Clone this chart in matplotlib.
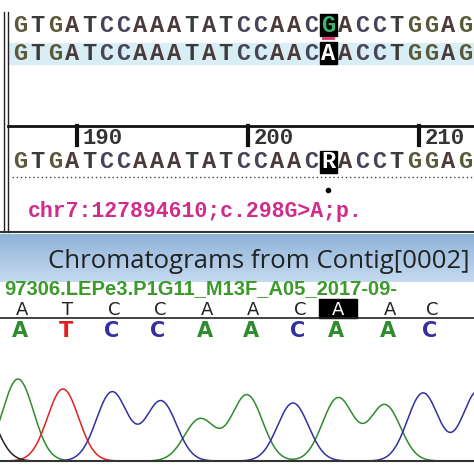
import numpy as np
import matplotlib
matplotlib.use("Agg")
import matplotlib.pyplot as plt
from matplotlib.patches import Rectangle

ref_seq = "GTGATCCAAATATCCAACGACCTGGAG"
read_seq = "GTGATCCAAATATCCAACAACCTGGAG"
cons_seq = "GTGATCCAAATATCCAACRACCTGGAG"
var_idx = 18
ruler_labels = ["190", "200", "210"]
ruler_chars = [3.3, 13.3, 23.3]
annotation = "chr7:127894610;c.298G>A;p."
title = "Chromatograms from Contig[0002]"
read_name = "97306.LEPe3.P1G11_M13F_A05_2017-09-"
called = ["A", "T", "C", "C", "A", "A", "C", "A", "A", "C"]
call_x = [22, 68, 114, 160, 207, 253, 300, 338, 390, 432]
peak_x = [-20, 18, 63, 112, 161, 200, 247, 293, 338, 385, 423, 478]
peak_h = [60, 82, 72, 69, 60, 42, 66, 58, 63, 56, 68, 70]
peak_base = ["G", "A", "T", "C", "C", "A", "A", "C", "A", "A", "C", "C"]
colors = {"A": "#2e8b2e", "T": "#e02020", "C": "#3030a0", "G": "#222222"}
seq_col = {"G": "#5a5a3a", "T": "#3a3a3a", "A": "#4a3a3a", "C": "#44445a"}

fig = plt.figure(figsize=(4.74, 4.74), dpi=100)
ax = fig.add_axes([0, 0, 1, 1])
ax.set_xlim(0, 474); ax.set_ylim(474, 0); ax.axis("off")

cw = 17.1; x0 = 20.5
mono = dict(family="Liberation Mono", fontsize=17, fontweight="bold", ha="center", va="center")
ax.add_patch(Rectangle((8, 43), 466, 21, color="#d8eef4", zorder=0))
for row, (seq, y) in enumerate([(ref_seq, 25), (read_seq, 53), (cons_seq, 162)]):
    for i, ch in enumerate(seq):
        x = x0 + i * cw
        c = seq_col.get(ch, "#333")
        if i == var_idx:
            ax.add_patch(Rectangle((x - 8.5, y - 11), 17, 22, color="black", zorder=1))
            c = "#3cb371" if row == 0 else "white"
        ax.text(x, y, ch, color=c, zorder=2, **mono)
ax.plot([x0 + var_idx*cw - 5, x0 + var_idx*cw + 5], [38, 38], color="#e0306a", lw=2)
for xv in (4, 8):
    ax.plot([xv, xv], [12, 232], color="#222", lw=1)
ax.plot([8, 474], [126, 126], color="#111", lw=2)
for lab, c in zip(ruler_labels, ruler_chars):
    xt = x0 + c * cw
    ax.plot([xt, xt], [126, 145], color="#111", lw=3)
    ax.text(xt + 6, 139, lab, family="Liberation Mono", fontsize=16, fontweight="bold", color="#333", va="center", ha="left")
ax.plot([12, 474], [177, 177], color="#444", lw=1, ls=(0, (1, 2)))
ax.plot([x0 + var_idx*cw], [190], "o", color="black", ms=3)
ax.text(28, 212, annotation, family="Liberation Mono", fontsize=15.5, fontweight="bold", color="#d02c8c", va="center", ha="left")
ax.plot([0, 474], [232, 232], color="#333", lw=1.5)

grad = np.linspace(0, 1, 50).reshape(-1, 1)
ax.imshow(grad, extent=(0, 474, 282, 234), cmap=matplotlib.colors.LinearSegmentedColormap.from_list("g", ["#8fb3d9", "#c5daf0"]), aspect="auto", zorder=0)
ax.set_xlim(0, 474); ax.set_ylim(474, 0)
ax.text(470, 262, title, family="Open Sans", fontsize=18.5, color="#222", va="center", ha="right")
ax.text(4, 289, read_name, family="Liberation Sans", fontsize=14.5, fontweight="bold", color="#3a9a2a", va="center", ha="left")
for ch, x in zip(called, call_x):
    if x == 338:
        ax.add_patch(Rectangle((319, 299), 38, 19, color="black", zorder=1))
        ax.text(x, 310, ch, fontsize=13, color="white", ha="center", va="center", zorder=2)
    else:
        ax.text(x, 310, ch, fontsize=13, color="#222", ha="center", va="center")
    ax.text(x - 2, 331, ch, family="DejaVu Sans", fontsize=15, fontweight="bold", color=colors[ch], ha="center", va="center")
ax.plot([0, 474], [318, 318], color="#222", lw=1.2)

xs = np.linspace(-30, 500, 1200)
for base in "ATCG":
    y = np.zeros_like(xs)
    for px, ph, pb in zip(peak_x, peak_h, peak_base):
        if pb == base:
            y += ph * np.exp(-0.5 * ((xs - px) / 15.5) ** 2)
    if y.max() > 0:
        ax.plot(xs, 461 - y, color=colors[base], lw=1.1)
ax.plot([0, 474], [461, 461], color="#333", lw=1.5)
fig.savefig("out.png", dpi=100)
